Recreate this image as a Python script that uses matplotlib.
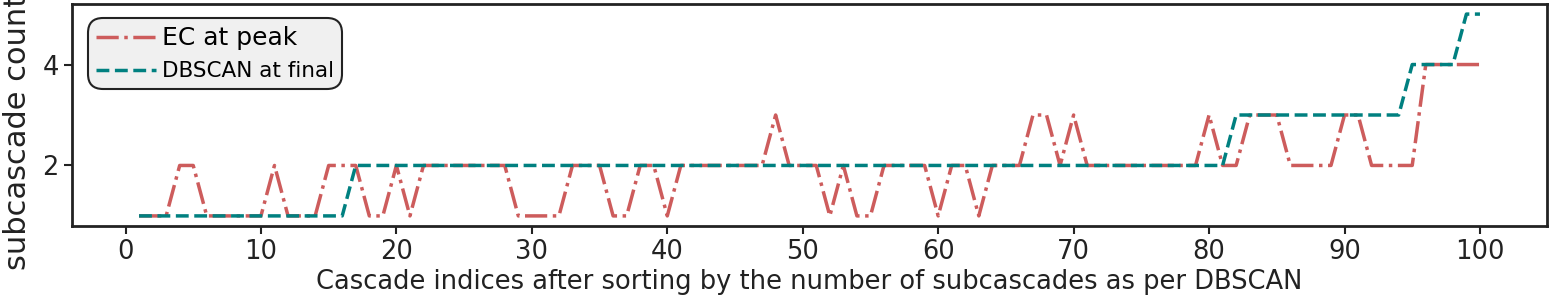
import matplotlib
matplotlib.use("Agg")
import matplotlib.pyplot as plt
import numpy as np

# cascade indices 1..100, sorted by DBSCAN subcascade count
cascade_idx = list(range(1, 101))

ec_peak = [1, 1, 1, 2, 2, 1, 1, 1, 1, 1,
           2, 1, 1, 1, 2, 2, 2, 1, 1, 2,
           1, 2, 2, 2, 2, 2, 2, 2, 1, 1,
           1, 1, 2, 2, 2, 1, 1, 2, 2, 1,
           2, 2, 2, 2, 2, 2, 2, 3, 2, 2,
           2, 1, 2, 1, 1, 2, 2, 2, 2, 1,
           2, 2, 1, 2, 2, 2, 3, 3, 2, 3,
           2, 2, 2, 2, 2, 2, 2, 2, 2, 3,
           2, 2, 3, 3, 3, 2, 2, 2, 2, 3,
           3, 2, 2, 2, 2, 4, 4, 4, 4, 4]

dbscan_final = [1] * 16 + [2] * 65 + [3] * 13 + [4] * 4 + [5] * 2

fig = plt.figure(figsize=(15.49, 3.08), dpi=100)
ax = fig.add_axes([72 / 1549, 1 - 226 / 308, (1547 - 72) / 1549, (226 - 4) / 308])

ax.plot(cascade_idx, ec_peak, color="#cd5c5c", linestyle="-.", linewidth=2.5,
        label="EC at peak")
ax.plot(cascade_idx, dbscan_final, color="#008080", linestyle="--", linewidth=2.5,
        label="DBSCAN at final")

ax.set_xticks(np.arange(0, 101, 10))
ax.set_yticks([2, 4])
ax.tick_params(labelsize=18.5, width=1.5, length=6, colors="#222222")
for s in ax.spines.values():
    s.set_linewidth(2)
    s.set_color("#222222")

ax.set_xlabel("Cascade indices after sorting by the number of subcascades as per DBSCAN",
              fontsize=18.5, labelpad=3, color="#222222")
ax.set_ylabel("subcascade count", fontsize=22, color="#222222")
ax.yaxis.set_label_coords(-0.027, 0.42)

leg = ax.legend(loc="upper left", fontsize=15.5, handlelength=2.8, handletextpad=0.3,
                fancybox=True, facecolor="#f0f0f0", edgecolor="#222222", framealpha=1,
                borderpad=0.35, labelspacing=0.55, borderaxespad=0,
                bbox_to_anchor=(16 / 1475, 1 - 14 / 222))
leg.get_texts()[0].set_fontsize(18)
leg.get_frame().set_linewidth(1.5)
leg.get_frame().set_boxstyle("round,pad=0,rounding_size=0.7")

fig.savefig("out.png", dpi=100)
